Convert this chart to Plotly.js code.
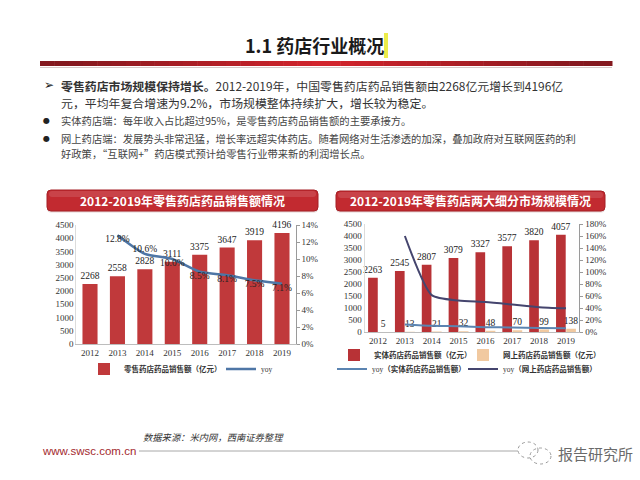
<!DOCTYPE html>
<html>
<head>
<meta charset="utf-8">
<script src="https://cdn.plot.ly/plotly-3.0.1.min.js"></script>
<style>
  html, body { margin: 0; padding: 0; background: #ffffff; }
  #chart { width: 640px; height: 480px; }
</style>
</head>
<body>
<div id="chart"></div>
<script>
// ---- data ----
const years = ['2012', '2013', '2014', '2015', '2016', '2017', '2018', '2019'];

// left panel: retail pharmacy drug sales (100 million yuan) and yoy growth (%)
const retailSales = [2268, 2558, 2828, 3111, 3375, 3647, 3919, 4196];
const retailYoy = [null, 12.8, 10.6, 10.0, 8.5, 8.1, 7.5, 7.1];
const retailYoyLabels = ['', '12.8%', '10.6%', '10.0%', '8.5%', '8.1%', '7.5%', '7.1%'];

// right panel: physical vs online pharmacy sales and their yoy growth (%)
const storeSales = [2263, 2545, 2807, 3079, 3327, 3577, 3820, 4057];
const onlineSales = [5, 13, 21, 32, 48, 70, 99, 138];
const storeYoy = [null, 12.5, 10.3, 9.7, 8.1, 7.5, 6.8, 6.2];
const onlineYoy = [null, 160, 61.5, 52.4, 50.0, 45.8, 41.4, 39.4];

// ---- helpers: pixel position -> paper fraction ----
const W = 640, H = 480;
const X = v => v / W;
const Y = v => 1 - v / H;

const CJK = 'Noto Sans CJK SC, Noto Sans, sans-serif';
const SERIF = 'Liberation Serif, DejaVu Serif, serif';

const tickFont = { family: SERIF, size: 9, color: '#333' };
const valueFont = { family: SERIF, size: 9.5, color: '#222' };
const yoySpan = t => `<span style="font-family:Liberation Serif;font-weight:normal">${t}</span>`;

// ---- traces ----
const traces = [
  {
    type: 'bar', x: years, y: retailSales, xaxis: 'x', yaxis: 'y',
    name: '零售药店药品销售额（亿元）', legend: 'legend',
    width: 0.55,
    marker: { color: '#c0393b' },
    text: retailSales.map(String), textposition: 'outside', textfont: valueFont,
    constraintext: 'none', cliponaxis: false, hoverinfo: 'skip'
  },
  {
    type: 'scatter', mode: 'lines+text', x: years, y: retailYoy, xaxis: 'x', yaxis: 'y2',
    name: yoySpan('yoy'), legend: 'legend2',
    line: { color: '#4e76a6', width: 2.5, shape: 'spline', smoothing: 0.6 },
    text: retailYoyLabels,
    textposition: ['top center', 'bottom center', 'top center', 'bottom center', 'bottom center',
                   'bottom center', 'bottom center', 'bottom center'],
    textfont: valueFont, cliponaxis: false, hoverinfo: 'skip'
  },
  {
    type: 'bar', x: years, y: storeSales, xaxis: 'x2', yaxis: 'y3',
    name: '实体药店药品销售额（亿元）', legend: 'legend3',
    width: 0.36, offset: -0.37,
    marker: { color: '#b83236' },
    text: storeSales.map(String), textposition: 'outside', textfont: valueFont,
    constraintext: 'none', cliponaxis: false, hoverinfo: 'skip'
  },
  {
    type: 'bar', x: years, y: onlineSales, xaxis: 'x2', yaxis: 'y3',
    name: '网上药店药品销售额（亿元）', legend: 'legend4',
    width: 0.36, offset: 0.01,
    marker: { color: '#f1c9a0' },
    text: onlineSales.map(String), textposition: 'outside', textfont: valueFont,
    constraintext: 'none', cliponaxis: false, hoverinfo: 'skip'
  },
  {
    type: 'scatter', mode: 'lines', x: years, y: storeYoy, xaxis: 'x2', yaxis: 'y4',
    name: yoySpan('yoy') + '（实体药店药品销售额）', legend: 'legend5',
    line: { color: '#5b84b1', width: 2, shape: 'spline', smoothing: 0.6 },
    hoverinfo: 'skip'
  },
  {
    type: 'scatter', mode: 'lines', x: years, y: onlineYoy, xaxis: 'x2', yaxis: 'y4',
    name: yoySpan('yoy') + '（网上药店药品销售额）', legend: 'legend6',
    line: { color: '#45456e', width: 2, shape: 'spline', smoothing: 0.6 },
    hoverinfo: 'skip'
  }
];

// ---- decorative shapes ----
const shapes = [];

// red divider under the page title, darker towards both ends
const segs = 40, lx0 = 40, lx1 = 612;
for (let i = 0; i < segs; i++) {
  const t = (i + 0.5) / segs;
  const k = Math.min(1, Math.abs(t - 0.5) * 2.2);   // 0 in the middle, 1 at the ends
  const r = Math.round(212 - 80 * k), g = Math.round(36 - 12 * k), b = Math.round(44 - 14 * k);
  shapes.push({
    type: 'rect', xref: 'paper', yref: 'paper', layer: 'above',
    x0: X(lx0 + (lx1 - lx0) * i / segs), x1: X(lx0 + (lx1 - lx0) * (i + 1) / segs + 0.5),
    y0: Y(66), y1: Y(61), line: { width: 0 }, fillcolor: `rgb(${r},${g},${b})`
  });
}
shapes.push({ type: 'line', xref: 'paper', yref: 'paper', x0: X(40), x1: X(612), y0: Y(67.5), y1: Y(67.5),
              line: { color: '#d8c8c8', width: 1 } });

// yellow marker beside the title
shapes.push({ type: 'rect', xref: 'paper', yref: 'paper', x0: X(384), x1: X(388), y0: Y(58), y1: Y(33),
              fillcolor: '#ecec4a', line: { width: 0 } });

// rounded header bars above the two panels
function roundedRect(x0, y0, x1, y1, r) {
  const p = (x, y) => `${X(x)},${Y(y)}`;
  return `M${p(x0 + r, y0)} L${p(x1 - r, y0)} Q${p(x1, y0)} ${p(x1, y0 + r)} L${p(x1, y1 - r)} ` +
         `Q${p(x1, y1)} ${p(x1 - r, y1)} L${p(x0 + r, y1)} Q${p(x0, y1)} ${p(x0, y1 - r)} ` +
         `L${p(x0, y0 + r)} Q${p(x0, y0)} ${p(x0 + r, y0)} Z`;
}
[[47, 190, 318, 211], [336, 191, 605, 211]].forEach(([a, b, c, d]) => {
  shapes.push({ type: 'path', xref: 'paper', yref: 'paper', path: roundedRect(a, b + 1.5, c, d + 1.5, 4),
                fillcolor: '#e4d6d6', line: { width: 0 } });
  shapes.push({ type: 'path', xref: 'paper', yref: 'paper', path: roundedRect(a, b, c, d, 4),
                fillcolor: '#c22a30', line: { color: '#a51f25', width: 1 } });
  shapes.push({ type: 'path', xref: 'paper', yref: 'paper', path: roundedRect(a + 2, b + 1, c - 2, b + 7, 3),
                fillcolor: 'rgba(255,255,255,0.12)', line: { width: 0 } });
});

// footer rule
shapes.push({ type: 'line', xref: 'paper', yref: 'paper', x0: X(139), x1: X(518), y0: Y(451), y1: Y(451),
              line: { color: '#a8a8a8', width: 1 } });
// chat-bubble logo outlines
shapes.push({ type: 'circle', xref: 'paper', yref: 'paper', x0: X(518), x1: X(538), y0: Y(458), y1: Y(442),
              line: { color: '#9a9a9a', width: 1, dash: 'dot' } });
shapes.push({ type: 'circle', xref: 'paper', yref: 'paper', x0: X(530), x1: X(551), y0: Y(464), y1: Y(448),
              line: { color: '#9a9a9a', width: 1, dash: 'dot' } });

// ---- text annotations ----
const ann = (x, y, text, font, opts = {}) => Object.assign({
  xref: 'paper', yref: 'paper', x: X(x), y: Y(y), text, showarrow: false,
  xanchor: 'left', yanchor: 'middle', align: 'left', font
}, opts);

const body = { family: CJK, size: 11.9, color: '#333' };
const small = { family: CJK, size: 10.3, color: '#444' };

const annotations = [
  ann(314, 45, '<b>1.1 药店行业概况</b>', { family: CJK, size: 18, color: '#1a1a1a' }, { xanchor: 'center' }),

  ann(42, 85, '➢', { family: 'DejaVu Sans', size: 12, color: '#222' }),
  ann(59, 85, '<b>零售药店市场规模保持增长。</b>2012-2019年，中国零售药店药品销售额由2268亿元增长到4196亿', body),
  ann(59, 102.5, '元，平均年复合增速为9.2%，市场规模整体持续扩大，增长较为稳定。', body),

  ann(41, 120, '●', { family: 'DejaVu Sans', size: 8, color: '#222' }),
  ann(59, 120, '实体药店端：每年收入占比超过95%，是零售药店药品销售额的主要承接方。', small),
  ann(41, 138, '●', { family: 'DejaVu Sans', size: 8, color: '#222' }),
  ann(59, 138, '网上药店端：发展势头非常迅猛，增长率远超实体药店。随着网络对生活渗透的加深，叠加政府对互联网医药的利', small),
  ann(59, 153, '好政策，“互联网+”药店模式预计给零售行业带来新的利润增长点。', small),

  ann(182.5, 200.5, '<b>2012-2019年零售药店药品销售额情况</b>', { family: CJK, size: 12, color: '#ffffff' }, { xanchor: 'center' }),
  ann(470.5, 201, '<b>2012-2019年零售药店两大细分市场规模情况</b>', { family: CJK, size: 12, color: '#ffffff' }, { xanchor: 'center' }),

  ann(40, 451, 'www.swsc.com.cn', { family: 'Liberation Sans, Arial, sans-serif', size: 11.5, color: '#a32a30' }),
  ann(141, 437, '<i>数据来源：米内网，西南证券整理</i>', { family: CJK, size: 9.3, color: '#333' }),
  ann(556, 453, '报告研究所', { family: CJK, size: 15, color: '#6a6a6a' })
];

// ---- axes ----
const leftAxis = (domain, anchor) => ({
  domain, anchor, range: [0, 4500], dtick: 500, tickfont: tickFont,
  showgrid: false, zeroline: false, showline: true, linecolor: '#dcdcdc', linewidth: 1,
  ticks: '', fixedrange: true
});
const catAxis = (domain, anchor) => ({
  domain, anchor, type: 'category', tickfont: tickFont,
  showgrid: false, zeroline: false, showline: true, linecolor: '#bdbdbd', linewidth: 1,
  ticks: '', fixedrange: true
});

// one legend box per entry so each sits exactly where it belongs
const legendFont = { family: CJK, size: 7.5, color: '#333', weight: 'bold' };
const legendAt = (x, y) => ({
  x: X(x), y: Y(y), orientation: 'h', xanchor: 'left', yanchor: 'middle',
  bgcolor: 'rgba(0,0,0,0)', font: legendFont, itemwidth: 30, tracegroupgap: 0,
  itemclick: false, itemdoubleclick: false
});

const layout = {
  width: W, height: H,
  margin: { l: 0, r: 0, t: 0, b: 0 },
  paper_bgcolor: '#ffffff', plot_bgcolor: 'rgba(0,0,0,0)',
  barmode: 'overlay',
  xaxis: catAxis([X(76.3), X(295.7)], 'y'),
  yaxis: leftAxis([Y(344), Y(225)], 'x'),
  yaxis2: {
    overlaying: 'y', side: 'right', anchor: 'x', range: [0, 14], dtick: 2, ticksuffix: '%',
    tickfont: tickFont, showgrid: false, zeroline: false, showline: true, linecolor: '#9a9a9a',
    ticks: 'outside', ticklen: 3, tickcolor: '#9a9a9a', fixedrange: true
  },
  xaxis2: catAxis([X(364.6), X(579.4)], 'y3'),
  yaxis3: leftAxis([Y(332), Y(224)], 'x2'),
  yaxis4: {
    overlaying: 'y3', side: 'right', anchor: 'x2', range: [0, 180], dtick: 20, ticksuffix: '%',
    tickfont: tickFont, showgrid: false, zeroline: false, showline: true, linecolor: '#9a9a9a',
    ticks: 'outside', ticklen: 3, tickcolor: '#9a9a9a', fixedrange: true
  },
  legend: legendAt(84, 369),
  legend2: legendAt(221, 369),
  legend3: legendAt(334, 355),
  legend4: legendAt(463, 355),
  legend5: legendAt(332, 369),
  legend6: legendAt(463, 369),
  shapes, annotations,
  showlegend: true
};

Plotly.newPlot('chart', traces, layout, { staticPlot: true, displayModeBar: false });
</script>
</body>
</html>
